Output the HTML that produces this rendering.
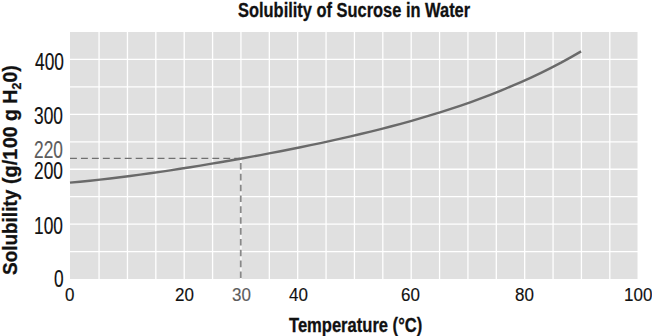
<!DOCTYPE html>
<html><head><meta charset="utf-8"><style>
html,body{margin:0;padding:0;background:#fff;width:652px;height:336px;overflow:hidden;position:relative}
.t{position:absolute;font-family:"Liberation Sans",sans-serif;white-space:nowrap;line-height:1;color:#111;transform-origin:0 0}
.b{font-weight:bold;-webkit-text-stroke:0.3px #111}
.yl{font-size:23.4px;transform:scaleX(0.74);-webkit-text-stroke:0.15px currentColor}
.xl{font-size:19.1px;transform:scaleX(0.89);-webkit-text-stroke:0.15px currentColor}
svg{position:absolute;left:0;top:0}
</style></head><body>
<svg width="652" height="336" viewBox="0 0 652 336">
<rect x="70" y="32" width="567.5" height="247" fill="#e0e0e0"/>
<g stroke="#fff" stroke-width="1.3"><line x1="99.07" y1="32" x2="99.07" y2="279"/><line x1="127.45" y1="32" x2="127.45" y2="279"/><line x1="155.82" y1="32" x2="155.82" y2="279"/><line x1="184.20" y1="32" x2="184.20" y2="279"/><line x1="212.57" y1="32" x2="212.57" y2="279"/><line x1="240.94" y1="32" x2="240.94" y2="279"/><line x1="269.32" y1="32" x2="269.32" y2="279"/><line x1="297.69" y1="32" x2="297.69" y2="279"/><line x1="326.07" y1="32" x2="326.07" y2="279"/><line x1="354.44" y1="32" x2="354.44" y2="279"/><line x1="382.81" y1="32" x2="382.81" y2="279"/><line x1="411.19" y1="32" x2="411.19" y2="279"/><line x1="439.56" y1="32" x2="439.56" y2="279"/><line x1="467.94" y1="32" x2="467.94" y2="279"/><line x1="496.31" y1="32" x2="496.31" y2="279"/><line x1="524.68" y1="32" x2="524.68" y2="279"/><line x1="553.06" y1="32" x2="553.06" y2="279"/><line x1="581.43" y1="32" x2="581.43" y2="279"/><line x1="609.81" y1="32" x2="609.81" y2="279"/><line x1="70" y1="59.45" x2="638" y2="59.45"/><line x1="70" y1="86.90" x2="638" y2="86.90"/><line x1="70" y1="114.35" x2="638" y2="114.35"/><line x1="70" y1="141.80" x2="638" y2="141.80"/><line x1="70" y1="169.25" x2="638" y2="169.25"/><line x1="70" y1="196.70" x2="638" y2="196.70"/><line x1="70" y1="224.15" x2="638" y2="224.15"/><line x1="70" y1="251.60" x2="638" y2="251.60"/></g>
<line x1="70" y1="158.4" x2="240" y2="158.4" stroke="#707070" stroke-width="1.2" stroke-dasharray="6.9 4.05"/>
<line x1="240.75" y1="163" x2="240.75" y2="279" stroke="#888" stroke-width="1.8" stroke-dasharray="6.6 4.24"/>
<path d="M70.0 182.68 L80.0 181.75 L90.0 180.74 L100.1 179.66 L110.1 178.50 L120.1 177.28 L130.1 176.00 L140.2 174.66 L150.2 173.26 L160.2 171.82 L170.2 170.33 L180.2 168.79 L190.3 167.22 L200.3 165.60 L210.3 163.94 L220.3 162.24 L230.3 160.50 L240.4 158.73 L250.4 156.92 L260.4 155.07 L270.4 153.18 L280.5 151.24 L290.5 149.27 L300.5 147.25 L310.5 145.18 L320.5 143.06 L330.6 140.89 L340.6 138.66 L350.6 136.37 L360.6 134.01 L370.6 131.58 L380.7 129.08 L390.7 126.49 L400.7 123.81 L410.7 121.04 L420.8 118.17 L430.8 115.19 L440.8 112.10 L450.8 108.88 L460.8 105.52 L470.9 102.03 L480.9 98.38 L490.9 94.58 L500.9 90.61 L510.9 86.45 L521.0 82.11 L531.0 77.56 L541.0 72.80 L551.0 67.82 L561.1 62.59 L571.1 57.12 L581.1 51.38" fill="none" stroke="#6a6a6a" stroke-width="2.4"/>
</svg>
<div class="t b" style="left:238px;top:-0.5px;font-size:20.3px;transform:scaleX(0.81)">Solubility of Sucrose in Water</div>
<div class="t b" style="left:289.3px;top:314.5px;font-size:20.3px;transform:scaleX(0.816)">Temperature (°C)</div>
<div class="t b" style="left:0px;top:274.5px;font-size:20.3px;transform:rotate(-90deg) scaleX(0.934)">Solubility</div>
<div class="t b" style="left:0px;top:183.5px;font-size:20.3px;transform:rotate(-90deg) scaleX(0.977)">(g/1</div>
<div class="t b" style="left:0px;top:147.5px;font-size:20.3px;transform:rotate(-90deg) scaleX(0.96)">00 g H<span style="font-size:13px;position:relative;top:4px">2</span>0)</div>
<div class="t yl" style="left:34.5px;top:51px;color:#111">400</div>
<div class="t yl" style="left:34px;top:105px;color:#111">300</div>
<div class="t yl" style="left:34px;top:139px;color:#5c5c5c">220</div>
<div class="t yl" style="left:34px;top:159.5px;color:#111">200</div>
<div class="t yl" style="left:34.3px;top:215.3px;color:#111">100</div>
<div class="t yl" style="left:53.8px;top:267.5px;color:#111">0</div>
<div class="t xl" style="left:65.2px;top:284.6px;color:#111">0</div>
<div class="t xl" style="left:175px;top:284.6px;color:#111">20</div>
<div class="t xl" style="left:232px;top:284.6px;color:#5c5c5c">30</div>
<div class="t xl" style="left:288.8px;top:284.6px;color:#111">40</div>
<div class="t xl" style="left:401.2px;top:284.6px;color:#111">60</div>
<div class="t xl" style="left:515px;top:284.6px;color:#111">80</div>
<div class="t xl" style="left:623.6px;top:284.6px;color:#111">100</div>
</body></html>
